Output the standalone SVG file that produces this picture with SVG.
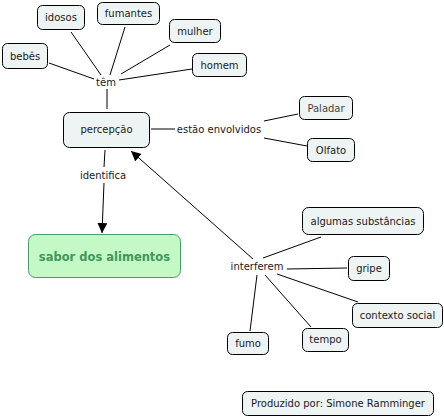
<svg xmlns="http://www.w3.org/2000/svg" width="444" height="418" viewBox="0 0 444 418">
<defs>
<style>
.n rect{fill:#eef4f4;stroke:#000;stroke-width:1}
.t{font-family:"DejaVu Sans",Verdana,sans-serif;font-size:10px;fill:#1a1a1a;text-anchor:middle}
.l line{stroke:#000;stroke-width:1}
</style>
<marker id="ah" viewBox="0 0 10 10" refX="10" refY="5" markerWidth="10" markerHeight="10" markerUnits="userSpaceOnUse" orient="auto"><path d="M0,0 L10,5 L0,10 z" fill="#000"/></marker>
</defs>
<rect width="444" height="418" fill="#fff"/>
<g id="connectors" class="l">
<line x1="49" y1="63" x2="94" y2="79"/>
<line x1="71" y1="32" x2="101" y2="75"/>
<line x1="125" y1="27" x2="110" y2="75"/>
<line x1="170" y1="45" x2="121" y2="74"/>
<line x1="192" y1="69" x2="119" y2="80"/>
<line x1="107" y1="89" x2="107" y2="109"/>
<line x1="151" y1="129" x2="175" y2="129"/>
<line x1="264" y1="121" x2="298" y2="114"/>
<line x1="264" y1="138" x2="307" y2="146"/>
<line x1="105" y1="150" x2="104" y2="167"/>
<line x1="104" y1="183" x2="102" y2="233" marker-end="url(#ah)"/>
<line x1="253" y1="259" x2="131" y2="151" marker-end="url(#ah)"/>
<line x1="263" y1="258" x2="321" y2="237"/>
<line x1="287" y1="269" x2="347" y2="268"/>
<line x1="277" y1="274" x2="358" y2="302"/>
<line x1="265" y1="275" x2="311" y2="327"/>
<line x1="257" y1="275" x2="250" y2="331"/>
</g>
<g id="bebes" class="n"><rect x="2.5" y="43.5" width="45" height="25" rx="5"/><text class="t" x="25" y="60">bebês</text></g>
<g id="idosos" class="n"><rect x="37.5" y="5.5" width="47" height="24" rx="5"/><text class="t" x="61" y="21">idosos</text></g>
<g id="fumantes" class="n"><rect x="97.5" y="2.5" width="62" height="22" rx="5"/><text class="t" x="128.5" y="17">fumantes</text></g>
<g id="mulher" class="n"><rect x="169.5" y="19.5" width="51" height="23" rx="5"/><text class="t" x="195" y="35">mulher</text></g>
<g id="homem" class="n"><rect x="192.5" y="53.5" width="54" height="23" rx="5"/><text class="t" x="219.5" y="69">homem</text></g>
<g id="tem"><text class="t" x="106" y="86">têm</text></g>
<g id="percepcao" class="n"><rect x="63.5" y="112.5" width="86" height="35" rx="6"/><text class="t" x="106.5" y="133">percepção</text></g>
<g id="estao"><text class="t" x="219" y="133">estão envolvidos</text></g>
<g id="paladar" class="n"><rect x="299.5" y="96.5" width="53" height="23" rx="5"/><text class="t" x="326" y="112" style="fill:#444">Paladar</text></g>
<g id="olfato" class="n"><rect x="307.5" y="138.5" width="47" height="23" rx="5"/><text class="t" x="331" y="154">Olfato</text></g>
<g id="identifica"><text class="t" x="103" y="179">identifica</text></g>
<g id="sabor"><rect x="28.5" y="234.5" width="152" height="43" rx="7" fill="#c4f8c4" stroke="#4a9a6a" stroke-width="1"/><text x="104.5" y="260.5" text-anchor="middle" style="font-family:'DejaVu Sans',Verdana,sans-serif;font-size:11.5px;font-weight:bold;fill:#3a9a5a">sabor dos alimentos</text></g>
<g id="interferem"><text class="t" x="257" y="270">interferem</text></g>
<g id="algumas" class="n"><rect x="302.5" y="207.5" width="121" height="27" rx="6"/><text class="t" x="363" y="225">algumas substâncias</text></g>
<g id="gripe" class="n"><rect x="348.5" y="256.5" width="41" height="24" rx="5"/><text class="t" x="369" y="272">gripe</text></g>
<g id="contexto" class="n"><rect x="352.5" y="303.5" width="90" height="24" rx="5"/><text class="t" x="397.5" y="319">contexto social</text></g>
<g id="tempo" class="n"><rect x="302.5" y="328.5" width="46" height="23" rx="5"/><text class="t" x="325.5" y="343">tempo</text></g>
<g id="fumo" class="n"><rect x="227.5" y="332.5" width="41" height="22" rx="5"/><text class="t" x="248" y="347">fumo</text></g>
<g id="produzido" class="n"><rect x="242.5" y="391.5" width="191" height="24" rx="5"/><text class="t" x="338" y="407">Produzido por: Simone Ramminger</text></g>
</svg>
